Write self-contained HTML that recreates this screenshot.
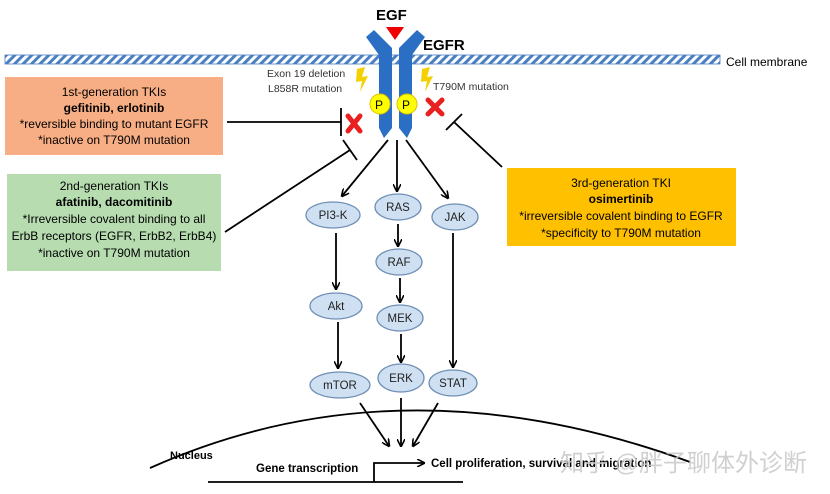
<!DOCTYPE html>
<html><head><meta charset="utf-8"><style>
body{margin:0;background:#fff}
svg{display:block;font-family:"Liberation Sans","Noto Sans CJK SC",sans-serif}
</style></head><body>
<svg width="830" height="494" viewBox="0 0 830 494" xmlns="http://www.w3.org/2000/svg">
<defs>
<pattern id="h" width="6" height="6" patternUnits="userSpaceOnUse" patternTransform="rotate(45)">
<rect width="6" height="6" fill="#fff"/><rect width="3" height="6" fill="#4a7fc0"/></pattern>
<marker id="a" markerWidth="8" markerHeight="8" refX="7" refY="4" orient="auto" markerUnits="userSpaceOnUse"><path d="M0,0 L8,4 L0,8" fill="none" stroke="#000" stroke-width="1.6"/></marker>
</defs>
<rect x="5" y="55" width="715" height="9" fill="url(#h)" stroke="#4a7fc0" stroke-width="0.8"/>
<text x="726" y="66" font-size="12">Cell membrane</text>
<text x="376" y="20" font-size="15" font-weight="bold">EGF</text>
<polygon points="386,27 404,27 395,40" fill="#e00"/>
<text x="423" y="50" font-size="15" font-weight="bold">EGFR</text>
<g fill="#2a6fc4">
<polygon points="366,37 374,30 392,48 392,128 384,138 379,128 379,55"/>
<polygon points="425,37 417,30 399,48 399,128 407,138 412,128 412,55"/>
</g>
<circle cx="380" cy="104" r="10" fill="#ffff00" stroke="#e0c000"/>
<circle cx="407" cy="104" r="10" fill="#ffff00" stroke="#e0c000"/>
<text x="375" y="109" font-size="12">P</text><text x="402" y="109" font-size="12">P</text>
<polygon points="357,69 365,67 362,77 368,76 360,92 362,81 356,82" fill="#f5d000"/>
<polygon points="422,69 430,67 427,77 433,76 425,92 427,81 421,82" fill="#f5d000"/>
<text x="267" y="77" font-size="10.5" fill="#333">Exon 19 deletion</text>
<text x="268" y="92" font-size="10.5" fill="#333">L858R mutation</text>
<text x="433" y="90" font-size="10.5" fill="#333">T790M mutation</text>
<g stroke="#e82020" stroke-width="5" stroke-linecap="round">
<line x1="348" y1="116" x2="360" y2="131"/><line x1="360" y1="116" x2="348" y2="131"/>
<line x1="428" y1="100" x2="442" y2="114"/><line x1="442" y1="100" x2="428" y2="114"/>
</g>
<rect x="5" y="77" width="218" height="78" fill="#f8ae84"/>
<g font-size="12" text-anchor="middle">
<text x="114" y="96">1st-generation TKIs</text>
<text x="114" y="112" font-weight="bold">gefitinib, erlotinib</text>
<text x="114" y="128">*reversible binding to mutant EGFR</text>
<text x="114" y="144">*inactive on T790M mutation</text>
</g>
<rect x="7" y="174" width="214" height="97" fill="#b6dcb0"/>
<g font-size="12" text-anchor="middle">
<text x="114" y="190">2nd-generation TKIs</text>
<text x="114" y="206" font-weight="bold">afatinib, dacomitinib</text>
<text x="114" y="223">*Irreversible covalent binding to all</text>
<text x="114" y="240">ErbB receptors (EGFR, ErbB2, ErbB4)</text>
<text x="114" y="257">*inactive on T790M mutation</text>
</g>
<rect x="507" y="168" width="229" height="78" fill="#ffc000"/>
<g font-size="12" text-anchor="middle">
<text x="621" y="187">3rd-generation TKI</text>
<text x="621" y="203" font-weight="bold">osimertinib</text>
<text x="621" y="220">*irreversible covalent binding to EGFR</text>
<text x="621" y="237">*specificity to T790M mutation</text>
</g>
<g stroke="#000" stroke-width="1.8" fill="none">
<line x1="227" y1="122" x2="341" y2="122"/><line x1="341" y1="108" x2="341" y2="136"/>
<line x1="225" y1="232" x2="350" y2="150"/><line x1="343" y1="140" x2="357" y2="160"/>
<line x1="502" y1="167" x2="454" y2="122"/><line x1="446" y1="130" x2="462" y2="114"/>
</g>
<g stroke="#000" stroke-width="1.8" fill="none" marker-end="url(#a)">
<line x1="388" y1="140" x2="342" y2="196"/>
<line x1="397" y1="140" x2="397" y2="191"/>
<line x1="406" y1="140" x2="448" y2="198"/>
<line x1="336" y1="233" x2="336" y2="289"/>
<line x1="398" y1="224" x2="398" y2="246"/>
<line x1="400" y1="278" x2="400" y2="302"/>
<line x1="338" y1="322" x2="338" y2="368"/>
<line x1="401" y1="334" x2="401" y2="362"/>
<line x1="453" y1="233" x2="453" y2="367"/>
<line x1="360" y1="403" x2="389" y2="446"/>
<line x1="401" y1="398" x2="401" y2="446"/>
<line x1="438" y1="403" x2="413" y2="446"/>
</g>
<g fill="#cfe0f2" stroke="#6f8fb5" stroke-width="1.3">
<ellipse cx="333" cy="215" rx="27" ry="13"/>
<ellipse cx="398" cy="207" rx="23" ry="13"/>
<ellipse cx="455" cy="217" rx="23" ry="13"/>
<ellipse cx="399" cy="262" rx="23" ry="13"/>
<ellipse cx="336" cy="306" rx="26" ry="13"/>
<ellipse cx="400" cy="318" rx="23" ry="13"/>
<ellipse cx="340" cy="385" rx="30" ry="13"/>
<ellipse cx="401" cy="378" rx="23" ry="14"/>
<ellipse cx="453" cy="383" rx="24" ry="13"/>
</g>
<g font-size="11.5" text-anchor="middle" fill="#222">
<text x="333" y="219">PI3-K</text><text x="398" y="211">RAS</text><text x="455" y="221">JAK</text>
<text x="399" y="266">RAF</text><text x="336" y="310">Akt</text><text x="400" y="322">MEK</text>
<text x="340" y="389">mTOR</text><text x="401" y="382">ERK</text><text x="453" y="387">STAT</text>
</g>
<path d="M150,468 Q400,356 690,462" fill="none" stroke="#000" stroke-width="1.8"/>
<text x="170" y="459" font-size="11" font-weight="bold">Nucleus</text>
<text x="256" y="472" font-size="11.5" font-weight="bold">Gene transcription</text>
<line x1="208" y1="482" x2="463" y2="482" stroke="#000" stroke-width="1.8"/>
<path d="M374,482 L374,463 L424,463" fill="none" stroke="#000" stroke-width="1.8" marker-end="url(#a)"/>
<text x="431" y="467" font-size="11.5" font-weight="bold">Cell proliferation, survival and migration</text>
<text x="560" y="471" font-size="24" fill="#c8c8c8" fill-opacity="0.85">知乎 @胖子聊体外诊断</text>
</svg>
</body></html>
